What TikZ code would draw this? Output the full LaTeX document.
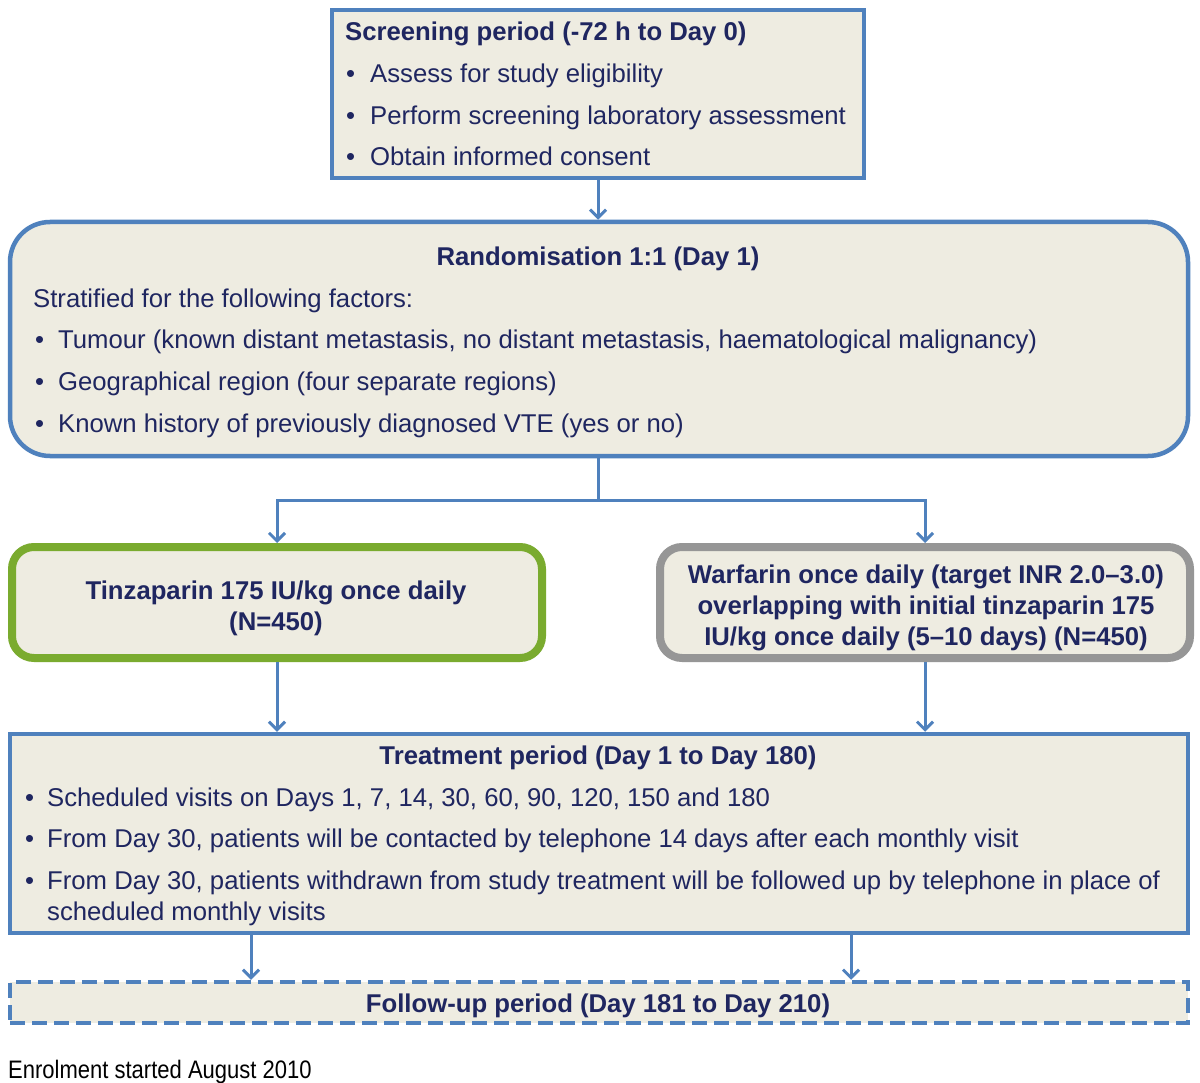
\documentclass[tikz,border=0pt]{standalone}
\usepackage{fontspec}
\setmainfont{Liberation Sans}
\newfontfamily\narrowfont[FakeStretch=0.87]{Liberation Sans}
\usetikzlibrary{arrows.meta}
\definecolor{boxblue}{HTML}{4F81BD}
\definecolor{boxfill}{HTML}{EEECE1}
\definecolor{boxgreen}{HTML}{7AAB2F}
\definecolor{boxgray}{HTML}{969696}
\definecolor{txt}{HTML}{1F2660}
\begin{document}
\begin{tikzpicture}[x=1pt,y=-1pt,
  box/.style={draw=boxblue,fill=boxfill,line width=4.5pt,inner sep=0pt,anchor=center},
  armbox/.style={fill=boxfill,line width=8pt,inner sep=0pt,rounded corners=22pt,anchor=center},
  ln/.style={inner sep=0pt,anchor=base west,text=txt,font=\fontsize{25.7}{30}\selectfont},
  cln/.style={inner sep=0pt,anchor=base,text=txt,font=\bfseries\fontsize{25.7}{30}\selectfont},
  ttl/.style={inner sep=0pt,anchor=base west,text=txt,font=\bfseries\fontsize{25.7}{30}\selectfont},
  conn/.style={draw=boxblue,line width=3pt,-{Straight Barb[length=8pt,width=16pt]}},
  plain/.style={draw=boxblue,line width=3pt}
]
\useasboundingbox[fill=white] (0,0) rectangle (1200,1083);
\newcommand{\bul}[1]{\makebox[#1][l]{\textbullet}}

% boxes
\node[box,minimum width=532pt,minimum height=168pt] (scr) at (598,94) {};
\node[box,rounded corners=40pt,minimum width=1178pt,minimum height=234pt] (rand) at (599,339) {};
\node[armbox,draw=boxgreen,minimum width=530pt,minimum height=111pt] (tinz) at (277,602.5) {};
\node[armbox,draw=boxgray,minimum width=530pt,minimum height=111pt] (warf) at (925,602.5) {};
\node[box,minimum width=1178pt,minimum height=199pt] (treat) at (599,833.5) {};
\node[box,dash pattern=on 15pt off 7pt,minimum width=1178pt,minimum height=41pt] (fol) at (599,1002.5) {};

\begin{scope}[yshift=-1.5pt]
% screening text
\node[ttl] (scrT) at (345,39) {Screening period (-72 h to Day 0)};
\node[ln] (scr1) at (346,81) {\bul{24pt}Assess for study eligibility};
\node[ln] (scr2) at (346,123) {\bul{24pt}Perform screening laboratory assessment};
\node[ln] (scr3) at (346,164) {\bul{24pt}Obtain informed consent};

% randomisation text
\node[cln] (randT) at (598,264) {Randomisation 1:1 (Day 1)};
\node[ln] (rand0) at (33,306) {Stratified for the following factors:};
\node[ln] (rand1) at (35,347) {\bul{23pt}Tumour (known distant metastasis, no distant metastasis, haematological malignancy)};
\node[ln] (rand2) at (35,389) {\bul{23pt}Geographical region (four separate regions)};
\node[ln] (rand3) at (35,431) {\bul{23pt}Known history of previously diagnosed VTE (yes or no)};

% arms text
\node[cln] (tinz1) at (276,598) {Tinzaparin 175 IU/kg once daily};
\node[cln] (tinz2) at (276,629) {(N=450)};
\node[cln] (warf1) at (926,582) {Warfarin once daily (target INR 2.0--3.0)};
\node[cln] (warf2) at (926,613) {overlapping with initial tinzaparin 175};
\node[cln] (warf3) at (926,644) {IU/kg once daily (5--10 days) (N=450)};

% treatment text
\node[cln] (treatT) at (598,763) {Treatment period (Day 1 to Day 180)};
\node[ln] (tr1) at (25,805) {\bul{22pt}Scheduled visits on Days 1, 7, 14, 30, 60, 90, 120, 150 and 180};
\node[ln] (tr2) at (25,846) {\bul{22pt}From Day 30, patients will be contacted by telephone 14 days after each monthly visit};
\node[ln] (tr3) at (25,888) {\bul{22pt}From Day 30, patients withdrawn from study treatment will be followed up by telephone in place of};
\node[ln] (tr3b) at (47,919) {scheduled monthly visits};

% follow-up text
\node[cln] (folT) at (598,1011) {Follow-up period (Day 181 to Day 210)};

% footnote
\node[inner sep=0pt,anchor=base west,text=black,font=\narrowfont\fontsize{25.3}{30}\selectfont] (note) at (8,1077) {Enrolment started August 2010};
\end{scope}

% connectors
\draw[conn] (scr.south) -- (scr.south |- rand.north);
\coordinate (br) at (598,500);
\draw[plain] ([xshift=-1pt]rand.south) -- (br);
\draw[conn] (br) -| (tinz.north);
\draw[conn] (br) -| (warf.north);
\draw[conn] (tinz.south) -- (tinz.south |- treat.north);
\draw[conn] (warf.south) -- (warf.south |- treat.north);
\draw[conn] ([xshift=-348pt]treat.south) -- ([xshift=-348pt]fol.north);
\draw[conn] ([xshift=252pt]treat.south) -- ([xshift=252pt]fol.north);
\end{tikzpicture}
\end{document}
